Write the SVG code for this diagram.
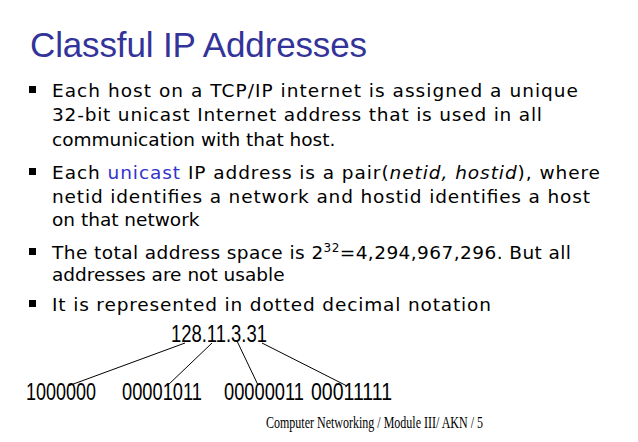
<svg xmlns="http://www.w3.org/2000/svg" width="638" height="442" viewBox="0 0 638 442">
<style>
.b{font-family:"DejaVu Sans",Verdana,sans-serif;font-size:18.5px;fill:#000}
.n{font-family:"Liberation Sans",Arial,sans-serif;font-size:24px;fill:#000}
.sq{fill:#000}
line{stroke:#000;stroke-width:1}
</style>
<rect width="638" height="442" fill="#fff"/>
<text x="30" y="57" font-family="Liberation Sans,Arial,sans-serif" font-size="35" fill="#333399" textLength="337">Classful IP Addresses</text>
<g id="bullets">
<rect class="sq" x="29" y="86" width="7" height="7"/>
<rect class="sq" x="29" y="168" width="7" height="7"/>
<rect class="sq" x="29" y="248" width="7" height="7"/>
<rect class="sq" x="29" y="300" width="7" height="7"/>
</g>
<g id="body">
<text class="b" x="52" y="97" textLength="526">Each host on a TCP/IP internet is assigned a unique</text>
<text class="b" x="52" y="121" textLength="490">32-bit unicast Internet address that is used in all</text>
<text class="b" x="52" y="146">communication with that host.</text>
<text class="b" x="52" y="179" textLength="548">Each <tspan fill="#3333cc">unicast</tspan> IP address is a pair(<tspan font-style="italic">netid, hostid</tspan>), where</text>
<text class="b" x="52" y="203" textLength="538">netid identifies a network and hostid identifies a host</text>
<text class="b" x="52" y="226">on that network</text>
<text class="b" x="52" y="259" textLength="519">The total address space is 2<tspan font-size="12" dy="-7">32</tspan><tspan dy="7">=4,294,967,296. But all</tspan></text>
<text class="b" x="52" y="281">addresses are not usable</text>
<text class="b" x="52" y="311" textLength="439">It is represented in dotted decimal notation</text>
</g>
<g id="ip"><text class="n" x="171" y="342" textLength="96" lengthAdjust="spacingAndGlyphs">128.11.3.31</text></g>
<g id="binary">
<text class="n" x="26" y="400" textLength="70" lengthAdjust="spacingAndGlyphs">1000000</text>
<text class="n" x="122" y="400" textLength="80" lengthAdjust="spacingAndGlyphs">00001011</text>
<text class="n" x="224" y="400" textLength="80" lengthAdjust="spacingAndGlyphs">00000011</text>
<text class="n" x="311" y="400" textLength="81" lengthAdjust="spacingAndGlyphs">00011111</text>
</g>
<g id="connectors">
<line x1="185" y1="343" x2="68" y2="386"/>
<line x1="212" y1="343" x2="167" y2="386"/>
<line x1="237" y1="341" x2="258" y2="385"/>
<line x1="262" y1="343" x2="347" y2="386"/>
</g>
<text x="266" y="428" font-family="Liberation Serif,Times New Roman,serif" font-size="17" fill="#000" textLength="217" lengthAdjust="spacingAndGlyphs">Computer Networking / Module III/ AKN / 5</text>
</svg>
